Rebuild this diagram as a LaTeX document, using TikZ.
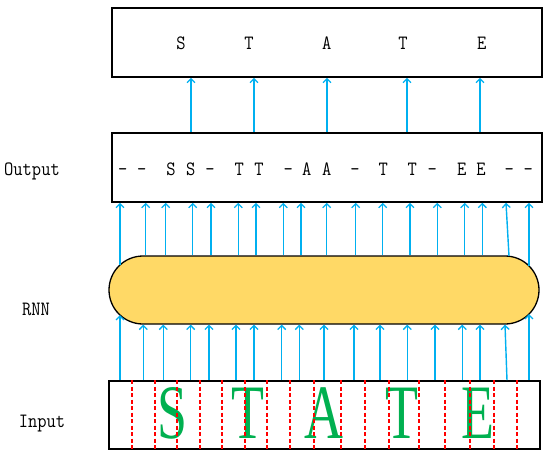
\documentclass[tikz,border=0pt]{standalone}
\usepackage{fontspec}
\newfontfamily\bigserif{Liberation Serif}
\usetikzlibrary{arrows.meta}
\definecolor{arrowblue}{RGB}{0,176,240}
\definecolor{rnnfill}{RGB}{255,217,102}
\definecolor{lettergreen}{RGB}{0,176,80}
\tikzset{
  box/.style={draw=black,line width=1.6pt,fill=white,inner sep=0pt,minimum width=430pt,minimum height=69pt},
  rnnbox/.style={draw=black,line width=1.3pt,fill=rnnfill,rounded corners=34pt,inner sep=0pt,minimum width=430pt,minimum height=68pt},
  arr/.style={draw=arrowblue,line width=1.4pt,-{Straight Barb[length=4pt,width=8pt,line width=1.3pt]}},
  monotext/.style={font=\fontsize{18}{18}\selectfont\ttfamily,anchor=base,inner sep=0pt},
  bigletter/.style={font=\fontsize{77}{77}\selectfont\bigserif,text=lettergreen,anchor=base,inner sep=0pt},
  reddash/.style={draw=red,line width=2pt,dash pattern=on 4pt off 2.5pt},
}
\newcommand{\tall}[1]{\scalebox{1}[1.13]{#1}}
\newcommand{\narrow}[1]{\scalebox{0.7}[1]{#1}}
\begin{document}
\begin{tikzpicture}[x=1pt,y=-1pt]
\useasboundingbox (0,0) rectangle (550,458);
% boxes
\node[box] (top) at (327,42.5) {};
\node[box] (out) at (327,167.5) {};
\node[rnnbox] (rnn) at (324,290) {};
\node[box,minimum width=431pt,minimum height=68pt] (in) at (324.5,415) {};
% side labels
\node[monotext] (lout) at (32,175) {\tall{Output}};
\node[monotext] (lrnn) at (36,315) {\tall{RNN}};
\node[monotext] (lin) at (42,427) {\tall{Input}};
% top letters
\foreach \x/\c [count=\i] in {181/S,249/T,326.7/A,403/T,481.7/E}
  \node[monotext] (t\i) at (\x,49) {\tall{\c}};
% output characters
\foreach \x/\c [count=\i] in {122.7/-,141.7/-,171/S,190.7/S,210/-,239.3/T,259/T,288.3/-,306.7/A,326.7/A,355/-,383.3/T,412.3/T,432.3/-,461.7/E,481/E,509.3/-,528.3/-}
  \node[monotext] (o\i) at (\x,175) {\tall{\c}};
% input letters
\foreach \x/\c [count=\i] in {172/S,248/T,324/A,402/T,478/E}
  \node[bigletter] (g\i) at (\x,438) {\narrow{\c}};
% red dashed frame separators
\foreach \x in {132.3,155,177.3,200,222.3,245,267.3,290,314.3,341,365,389,419,445,470,494,516.7}
  \draw[reddash] (\x,0 |- in.north) -- (\x,0 |- in.south);
% arrows output -> top
\foreach \x in {191,254,327,407,480}
  \draw[arr] (\x,0 |- out.north) -- (\x,0 |- top.south);
% arrows rnn -> output
\foreach \x in {145.7,165.7,192.7,211,238.3,256,283.3,301,326.7,355.7,382.7,410,437.3,464.7,482.3}
  \draw[arr] (\x,0 |- rnn.north) -- (\x,0 |- out.south);
\coordinate (rtl) at (120,265);
\coordinate (rtr) at (529,266);
\coordinate (rts) at (509,256);
\draw[arr] (rtl) -- (rtl |- out.south);
\draw[arr] (rtr) -- (rtr |- out.south);
\draw[arr] (rts) -- (506,0 |- out.south);
% arrows input -> rnn
\foreach \x in {143.3,163.3,190.7,209,236,254,281.7,299.3,324,354,380,407.3,435,462.3,480}
  \draw[arr] (\x,0 |- in.north) -- (\x,0 |- rnn.south);
\coordinate (rbl) at (120,315);
\coordinate (rbr) at (529,314);
\draw[arr] (rbl |- in.north) -- (rbl);
\draw[arr] (rbr |- in.north) -- (rbr);
\draw[arr] (507,0 |- in.north) -- (505,0 |- rnn.south);
\end{tikzpicture}
\end{document}
